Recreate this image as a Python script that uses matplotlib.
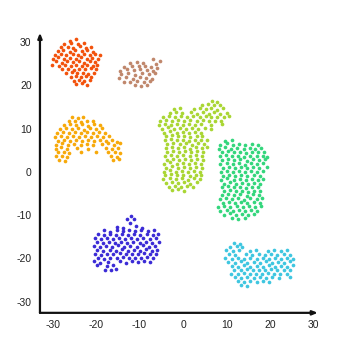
import numpy as np
import matplotlib
matplotlib.use("Agg")
import matplotlib.pyplot as plt

plt.rcParams["font.family"] = ["Liberation Sans", "DejaVu Sans"]
plt.rcParams["axes.unicode_minus"] = False

# cluster points (x, y)
red = [(-26.0, 30.3), (-24.6, 30.7),
       (-27.3, 29.6), (-25.7, 29.9), (-24.2, 29.5), (-22.8, 29.8),
       (-28.1, 28.8), (-26.5, 29.0), (-25.2, 28.6), (-23.6, 29.1), (-22.4, 28.7), (-21.2, 29.0),
       (-28.8, 27.9), (-27.5, 28.2), (-26.0, 27.8), (-24.8, 28.1), (-23.3, 27.9), (-22.0, 28.2), (-20.7, 27.8),
       (-29.5, 27.0), (-28.1, 27.3), (-26.8, 27.1), (-25.4, 27.4), (-24.1, 27.0), (-22.7, 27.3), (-21.5, 27.0),
       (-20.2, 27.4), (-19.1, 27.1),
       (-30.0, 26.1), (-28.8, 26.5), (-27.4, 26.2), (-26.1, 26.4), (-24.7, 26.1), (-23.4, 26.5), (-22.1, 26.2),
       (-20.9, 26.4), (-19.6, 26.2),
       (-29.2, 25.6), (-27.9, 25.3), (-26.6, 25.6), (-25.3, 25.4), (-24.0, 25.7), (-22.8, 25.3), (-21.5, 25.6),
       (-20.2, 25.4),
       (-30.1, 24.7), (-28.5, 24.5), (-27.1, 24.8), (-25.8, 24.5), (-24.5, 24.7), (-23.3, 24.4), (-22.1, 24.8),
       (-20.8, 24.5), (-19.7, 24.8),
       (-27.9, 23.7), (-26.4, 23.9), (-25.1, 23.6), (-23.9, 23.9), (-22.5, 23.7), (-21.2, 24.0), (-20.0, 23.7),
       (-26.8, 22.8), (-25.5, 23.1), (-24.3, 22.8), (-23.0, 23.0), (-21.8, 22.7), (-20.5, 23.0),
       (-25.8, 22.0), (-24.6, 22.2), (-23.5, 21.9), (-22.2, 22.2), (-21.1, 21.9),
       (-25.1, 21.1), (-23.9, 21.3), (-22.7, 21.0), (-21.4, 21.3),
       (-24.5, 20.3), (-23.2, 20.5), (-22.0, 20.2)]

brown = [(-7.0, 26.1), (-5.4, 25.6),
         (-12.3, 25.2), (-10.6, 25.4), (-9.2, 25.1), (-6.3, 24.9),
         (-13.5, 24.3), (-11.8, 24.6), (-10.2, 24.4), (-8.7, 24.6), (-7.4, 24.3), (-5.9, 24.1),
         (-14.6, 23.4), (-13.0, 23.7), (-11.3, 23.5), (-9.8, 23.8), (-8.3, 23.5), (-6.8, 23.3),
         (-14.3, 22.6), (-12.6, 22.8), (-11.0, 22.5), (-9.4, 22.8), (-7.9, 22.6), (-6.5, 22.9),
         (-14.7, 21.7), (-13.1, 21.9), (-11.6, 21.6), (-10.0, 21.9), (-8.5, 21.7), (-7.1, 21.5),
         (-13.6, 20.9), (-12.1, 20.7), (-10.5, 21.0), (-9.0, 20.8), (-7.6, 21.1),
         (-11.0, 20.0), (-9.6, 19.8), (-8.2, 20.1)]

orange = [(-25.5, 12.7), (-24.1, 12.4), (-22.9, 12.6),
          (-26.3, 11.7), (-24.9, 11.9), (-23.5, 11.6), (-22.1, 11.9), (-20.8, 11.7),
          (-27.4, 10.8), (-26.0, 11.1), (-24.6, 10.8), (-23.2, 11.0), (-21.8, 10.7), (-20.4, 11.0), (-19.1, 10.8),
          (-28.3, 9.9), (-26.9, 10.2), (-25.5, 9.9), (-24.1, 10.1), (-22.8, 9.8), (-21.4, 10.1), (-20.0, 9.9),
          (-18.7, 10.1),
          (-29.0, 9.0), (-27.6, 9.3), (-26.2, 9.0), (-24.8, 9.2), (-23.4, 8.9), (-22.1, 9.2), (-20.7, 9.0),
          (-19.3, 9.2), (-17.9, 8.9),
          (-29.4, 8.1), (-28.0, 8.4), (-26.6, 8.1), (-25.3, 8.3), (-23.9, 8.0), (-22.5, 8.3), (-21.1, 8.1),
          (-19.8, 8.3), (-18.4, 8.0), (-17.0, 8.3),
          (-28.8, 7.2), (-27.3, 7.5), (-25.9, 7.2), (-24.6, 7.4), (-23.2, 7.1), (-21.8, 7.4), (-20.4, 7.2),
          (-19.1, 7.4), (-17.7, 7.1), (-16.3, 7.4), (-15.2, 7.0),
          (-29.1, 6.3), (-27.8, 6.6), (-26.4, 6.3), (-25.0, 6.5), (-23.5, 6.2), (-22.0, 6.5), (-20.7, 6.3),
          (-18.6, 6.4), (-17.2, 6.6), (-15.8, 6.3), (-14.6, 6.6),
          (-29.3, 5.4), (-28.0, 5.7), (-26.7, 5.4), (-24.3, 5.6), (-21.9, 5.3), (-17.8, 5.5), (-16.4, 5.3),
          (-15.0, 5.6),
          (-28.8, 4.5), (-27.4, 4.7), (-26.3, 4.4), (-23.4, 4.6), (-20.0, 4.7), (-17.3, 4.5), (-15.7, 4.7),
          (-14.6, 4.4),
          (-29.2, 3.6), (-27.9, 3.8), (-26.6, 3.5), (-16.6, 3.7), (-15.2, 3.5),
          (-28.6, 2.8), (-27.2, 2.6), (-16.0, 2.7), (-14.8, 2.9)]

lime = [(6.6, 16.4), (7.8, 16.1),
        (4.4, 15.4), (5.7, 15.7), (7.1, 15.4), (8.4, 15.6),
        (-2.1, 14.5), (-0.7, 14.7), (2.6, 14.5), (3.9, 14.8), (5.2, 14.5), (6.5, 14.7), (7.8, 14.4), (9.2, 14.7),
        (-3.0, 13.6), (-1.6, 13.9), (-0.2, 13.6), (1.8, 13.8), (3.2, 13.5), (4.6, 13.8), (5.9, 13.5), (7.2, 13.8),
        (8.6, 13.5), (10.0, 13.7),
        (-4.6, 12.7), (-3.2, 13.0), (-1.9, 12.7), (-0.5, 12.9), (0.9, 12.6), (2.4, 12.9), (3.8, 12.7), (5.2, 12.9),
        (6.5, 12.6), (7.9, 12.8), (9.3, 12.6), (10.6, 12.9),
        (-5.3, 11.8), (-3.9, 12.1), (-2.5, 11.8), (-1.1, 12.0), (0.3, 11.7), (1.7, 12.0), (3.1, 11.8), (4.5, 12.0),
        (5.9, 11.7), (7.3, 11.9), (8.7, 11.7),
        (-5.6, 10.9), (-4.2, 11.2), (-2.8, 10.9), (-1.4, 11.1), (0.0, 10.8), (1.4, 11.1), (2.8, 10.9), (4.2, 11.1),
        (6.5, 10.8), (8.9, 11.0),
        (-4.9, 10.0), (-3.5, 10.3), (-2.1, 10.0), (-0.7, 10.2), (0.7, 9.9), (2.1, 10.2), (3.5, 10.0), (5.0, 10.2),
        (6.4, 9.9),
        (-4.3, 9.1), (-2.9, 9.4), (-1.5, 9.1), (-0.1, 9.3), (1.3, 9.0), (2.7, 9.3), (4.1, 9.1),
        (-3.9, 8.2), (-2.5, 8.5), (-1.1, 8.2), (0.3, 8.4), (1.7, 8.1), (3.1, 8.4), (4.4, 8.2),
        (-4.2, 7.3), (-2.8, 7.6), (-1.4, 7.3), (0.0, 7.5), (1.4, 7.2), (2.8, 7.5), (4.1, 7.3), (5.4, 7.5),
        (-3.6, 6.4), (-2.2, 6.7), (-0.8, 6.4), (0.6, 6.6), (2.0, 6.3), (3.4, 6.6), (4.8, 6.4),
        (-4.0, 5.5), (-2.6, 5.8), (-1.2, 5.5), (0.2, 5.7), (1.6, 5.4), (3.0, 5.7), (4.4, 5.5), (5.6, 5.8),
        (-3.7, 4.6), (-2.3, 4.9), (-0.9, 4.6), (0.5, 4.8), (1.9, 4.5), (3.3, 4.8), (4.7, 4.6),
        (-4.1, 3.7), (-2.7, 4.0), (-1.3, 3.7), (0.1, 3.9), (1.5, 3.6), (2.9, 3.9), (4.3, 3.7),
        (-3.8, 2.8), (-2.4, 3.1), (-1.0, 2.8), (0.4, 3.0), (1.8, 2.7), (3.2, 3.0), (4.5, 2.8),
        (-4.3, 1.9), (-2.9, 2.2), (-1.5, 1.9), (-0.1, 2.1), (1.3, 1.8), (2.7, 2.1), (4.1, 1.9),
        (-4.0, 1.0), (-2.6, 1.3), (-1.2, 1.0), (0.2, 1.2), (1.6, 0.9), (3.0, 1.2), (4.4, 1.0),
        (-4.4, 0.1), (-3.0, 0.4), (-1.6, 0.1), (-0.2, 0.3), (1.2, 0.0), (2.6, 0.3), (4.0, 0.1),
        (-4.1, -0.8), (-2.7, -0.5), (-1.3, -0.8), (0.1, -0.6), (1.5, -0.9), (2.9, -0.6), (4.2, -0.8),
        (-4.5, -1.7), (-3.1, -1.4), (-1.7, -1.7), (-0.3, -1.5), (1.1, -1.8), (2.5, -1.5), (3.8, -1.7),
        (-3.9, -2.6), (-2.5, -2.3), (-1.1, -2.6), (0.3, -2.4), (1.7, -2.7), (3.1, -2.4),
        (-3.3, -3.5), (-1.9, -3.2), (-0.5, -3.5), (0.9, -3.3), (2.3, -3.6),
        (-2.6, -4.2), (-1.2, -4.0), (0.2, -4.3)]

green = [(9.6, 7.2), (11.3, 7.5),
         (8.6, 6.3), (10.0, 6.6), (11.4, 6.3), (12.8, 6.5), (14.3, 6.2), (15.8, 6.5), (17.2, 6.3),
         (8.3, 5.4), (9.7, 5.7), (11.1, 5.4), (12.5, 5.6), (13.9, 5.3), (15.3, 5.6), (16.6, 5.4), (18.0, 5.6),
         (8.9, 4.5), (10.3, 4.8), (11.7, 4.5), (13.1, 4.7), (14.5, 4.4), (15.9, 4.7), (17.3, 4.5), (18.7, 4.7),
         (8.5, 3.6), (9.9, 3.9), (11.3, 3.6), (12.7, 3.8), (14.1, 3.5), (15.5, 3.8), (16.9, 3.6), (18.3, 3.8),
         (19.3, 3.5),
         (9.0, 2.7), (10.4, 3.0), (11.8, 2.7), (13.2, 2.9), (14.6, 2.6), (16.0, 2.9), (17.4, 2.7), (18.8, 2.9),
         (8.6, 1.8), (10.0, 2.1), (11.4, 1.8), (12.8, 2.0), (14.2, 1.7), (15.6, 2.0), (17.0, 1.8), (18.4, 2.0),
         (9.1, 0.9), (10.5, 1.2), (11.9, 0.9), (13.3, 1.1), (14.7, 0.8), (16.1, 1.1), (17.5, 0.9), (19.2, 1.1),
         (8.7, 0.0), (10.1, 0.3), (11.5, 0.0), (12.9, 0.2), (14.3, -0.1), (15.7, 0.2), (17.1, 0.0), (18.4, 0.2),
         (9.2, -0.9), (10.6, -0.6), (12.0, -0.9), (13.4, -0.7), (14.8, -1.0), (16.2, -0.7), (17.6, -0.9),
         (8.8, -1.8), (10.2, -1.5), (11.6, -1.8), (13.0, -1.6), (14.4, -1.9), (15.8, -1.6), (17.2, -1.8),
         (18.4, -1.6),
         (9.3, -2.7), (10.7, -2.4), (12.1, -2.7), (13.5, -2.5), (14.9, -2.8), (16.3, -2.5), (17.7, -2.7),
         (8.9, -3.6), (10.3, -3.3), (11.7, -3.6), (13.1, -3.4), (14.5, -3.7), (15.9, -3.4), (17.3, -3.6),
         (9.4, -4.5), (10.8, -4.2), (12.2, -4.5), (13.6, -4.3), (15.0, -4.6), (16.4, -4.3), (17.8, -4.5),
         (9.0, -5.4), (10.4, -5.1), (11.8, -5.4), (13.2, -5.2), (14.6, -5.5), (16.0, -5.2), (17.4, -5.4),
         (8.5, -6.3), (9.9, -6.0), (11.3, -6.3), (12.7, -6.1), (14.1, -6.4), (15.5, -6.1), (16.9, -6.3),
         (18.1, -6.0),
         (9.2, -7.2), (10.6, -6.9), (12.0, -7.2), (13.4, -7.0), (14.8, -7.3), (16.2, -7.0), (17.6, -7.2),
         (8.0, -8.1), (9.5, -7.8), (10.9, -8.1), (12.3, -7.9), (13.7, -8.2), (15.1, -7.9), (16.5, -8.1),
         (17.9, -7.9),
         (8.6, -9.0), (10.0, -8.7), (11.4, -9.0), (12.8, -8.8), (14.2, -9.1), (15.6, -8.8), (17.0, -9.0),
         (9.3, -9.9), (10.7, -9.6), (12.1, -9.9), (13.5, -9.7), (14.9, -10.0), (16.3, -9.7),
         (11.2, -10.6), (12.7, -10.9), (14.3, -10.7)]

blue = [(-12.0, -10.1), (-12.8, -11.0), (-11.3, -10.8), (-12.1, -11.9),
        (-15.2, -12.7), (-13.7, -12.9), (-10.8, -12.6), (-9.4, -12.9),
        (-18.2, -13.5), (-16.8, -13.8), (-15.3, -13.5), (-13.9, -13.7), (-12.4, -13.4), (-11.0, -13.7),
        (-9.6, -13.5), (-8.1, -13.7), (-6.7, -13.4),
        (-19.6, -14.4), (-18.2, -14.6), (-16.8, -14.3), (-15.4, -14.6), (-14.0, -14.4), (-12.6, -14.6),
        (-11.2, -14.3), (-9.8, -14.6), (-8.4, -14.4), (-7.0, -14.6), (-5.7, -14.3),
        (-20.3, -15.3), (-18.9, -15.6), (-17.5, -15.3), (-16.1, -15.5), (-14.7, -15.2), (-13.3, -15.5),
        (-11.9, -15.3), (-10.5, -15.5), (-9.1, -15.2), (-7.7, -15.5), (-6.3, -15.3),
        (-19.8, -16.2), (-18.4, -16.5), (-17.0, -16.2), (-15.6, -16.4), (-14.2, -16.1), (-12.8, -16.4),
        (-11.4, -16.2), (-10.0, -16.4), (-8.6, -16.1), (-7.2, -16.4), (-5.6, -16.2),
        (-20.5, -17.1), (-19.1, -17.4), (-17.7, -17.1), (-16.3, -17.3), (-14.9, -17.0), (-13.5, -17.3),
        (-12.1, -17.1), (-10.7, -17.3), (-9.3, -17.0), (-7.9, -17.3), (-6.5, -17.1),
        (-19.7, -18.0), (-18.3, -18.3), (-16.9, -18.0), (-15.5, -18.2), (-14.1, -17.9), (-12.7, -18.2),
        (-11.3, -18.0), (-9.9, -18.2), (-8.5, -17.9), (-7.1, -18.2), (-5.9, -18.0),
        (-20.2, -18.9), (-18.8, -19.2), (-17.4, -18.9), (-16.0, -19.1), (-14.6, -18.8), (-13.2, -19.1),
        (-11.8, -18.9), (-10.4, -19.1), (-9.0, -18.8), (-7.6, -19.1), (-6.3, -18.9),
        (-19.5, -19.8), (-18.1, -20.1), (-16.7, -19.8), (-15.3, -20.0), (-13.9, -19.7), (-12.5, -20.0),
        (-11.1, -19.8), (-9.7, -20.0), (-8.3, -19.7), (-6.9, -20.0),
        (-20.4, -20.7), (-19.0, -21.0), (-17.2, -20.8), (-14.6, -20.7), (-13.2, -21.0), (-11.8, -20.7),
        (-10.4, -20.9), (-9.0, -20.6), (-7.6, -20.8),
        (-19.7, -21.6), (-17.6, -21.8), (-16.2, -21.5),
        (-17.9, -22.6), (-16.5, -22.8), (-15.4, -22.5)]

cyan = [(11.6, -16.4), (13.0, -16.7),
        (10.8, -17.3), (12.3, -17.1), (13.6, -17.4),
        (9.9, -18.1), (11.4, -18.3), (12.8, -18.0), (15.3, -18.3), (16.7, -18.1), (19.5, -18.2), (21.0, -18.0),
        (22.5, -18.3), (24.0, -18.1),
        (10.5, -19.0), (12.0, -19.2), (14.5, -19.0), (15.9, -19.3), (17.4, -19.0), (18.8, -19.2), (20.2, -19.0),
        (21.7, -19.3), (23.2, -19.0), (24.7, -19.2),
        (9.7, -19.9), (11.2, -20.1), (12.7, -19.8), (14.1, -20.1), (15.5, -19.9), (16.9, -20.2), (18.3, -19.9),
        (19.7, -20.1), (21.1, -19.8), (22.5, -20.1), (23.9, -19.9), (25.3, -20.1),
        (10.4, -20.8), (11.9, -21.0), (13.3, -20.7), (14.8, -21.0), (16.2, -20.8), (17.6, -21.0), (19.0, -20.7),
        (20.4, -21.0), (21.8, -20.8), (23.2, -21.0), (24.6, -20.7),
        (11.2, -21.7), (12.6, -21.9), (14.0, -21.6), (15.5, -21.9), (16.9, -21.7), (18.3, -21.9), (19.7, -21.6),
        (21.1, -21.9), (22.5, -21.7), (23.9, -21.9), (25.2, -21.6),
        (11.8, -22.6), (13.3, -22.8), (14.7, -22.5), (16.1, -22.8), (17.5, -22.6), (18.9, -22.8), (20.3, -22.5),
        (21.7, -22.8), (23.1, -22.6), (24.5, -22.8),
        (11.1, -23.5), (12.6, -23.7), (14.0, -23.4), (15.4, -23.7), (16.8, -23.5), (18.2, -23.7), (19.6, -23.4),
        (21.0, -23.7), (22.4, -23.5), (23.8, -23.7),
        (12.0, -24.4), (13.4, -24.6), (14.8, -24.4), (16.2, -24.6), (17.6, -24.3), (19.0, -24.6), (20.5, -24.4),
        (22.0, -24.6), (24.7, -24.4),
        (12.7, -25.3), (14.1, -25.5), (15.5, -25.2), (16.9, -25.5), (18.3, -25.3), (19.8, -25.5),
        (13.3, -26.1), (14.8, -26.3)]

clusters = [red, brown, orange, lime, green, blue, cyan]
colors = ["#f2520c", "#c0876c", "#f7a90a", "#a9d633", "#33d67c", "#3b2bd6", "#3ec6e0"]

ticks = [-30, -20, -10, 0, 10, 20, 30]

fig = plt.figure(figsize=(3.6, 3.6), dpi=100)
ax = fig.add_axes([0.111, 0.131, 0.772, 0.778])

for pts, c in zip(clusters, colors):
    arr = np.array(pts)
    ax.scatter(arr[:, 0], arr[:, 1], s=7, color=c, linewidths=0)

ax.set_xlim(-32.9, 31.0)
ax.set_ylim(-32.6, 32.2)
ax.set_xticks(ticks)
ax.set_yticks(ticks)
ax.tick_params(length=0, labelsize=7.5, colors="#222222")
ax.tick_params(axis="x", pad=5)
ax.tick_params(axis="y", pad=6)

for s in ax.spines.values():
    s.set_visible(False)

# axis arrows
ax.annotate("", xy=(1, 0), xytext=(0, 0), xycoords="axes fraction",
            arrowprops=dict(arrowstyle="-|>,head_length=0.3,head_width=0.12", color="#111111", lw=1.6,
                            shrinkA=0, shrinkB=0))
ax.annotate("", xy=(0, 1), xytext=(0, 0), xycoords="axes fraction",
            arrowprops=dict(arrowstyle="-|>,head_length=0.3,head_width=0.12", color="#111111", lw=1.6,
                            shrinkA=0, shrinkB=0))

fig.savefig("out.png", dpi=100)
